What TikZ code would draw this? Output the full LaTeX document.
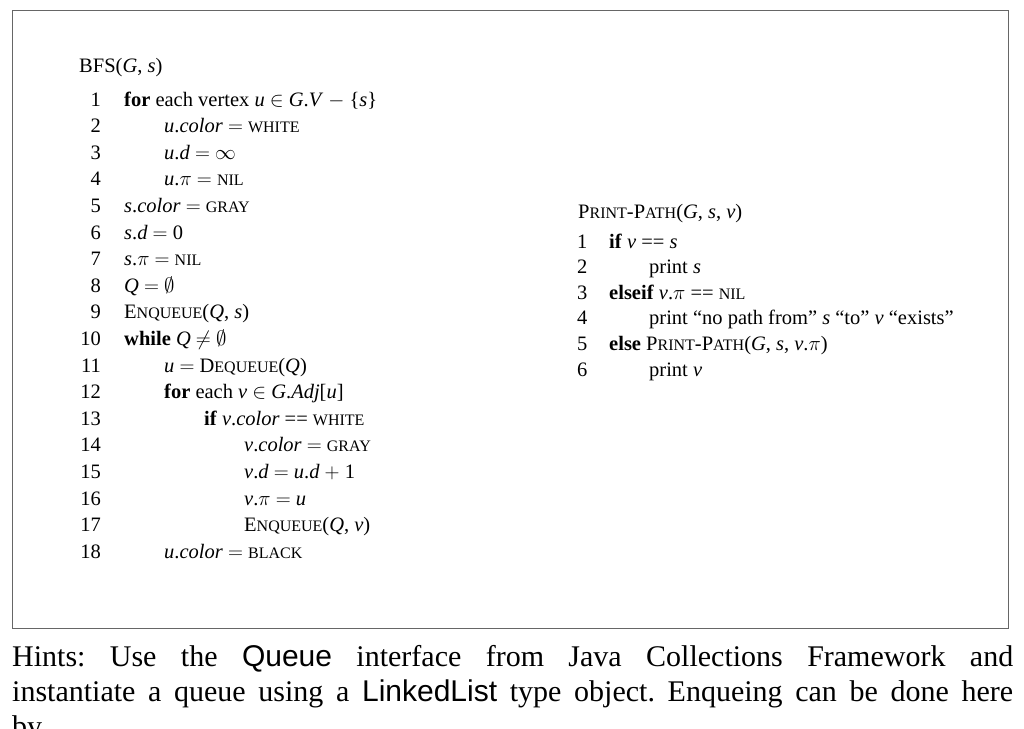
\documentclass[tikz,border=0pt]{standalone}
\usepackage{fontspec}
\setmainfont{Liberation Serif}
\newfontfamily\hsans{Liberation Sans}
\newcommand\smc[1]{{\fontsize{16}{16}\selectfont #1}}
\newcommand\kw[1]{\textbf{#1}}
\newcommand\vi[1]{\textit{#1}}
\frenchspacing
\begin{document}
\begin{tikzpicture}[x=1pt,y=-1pt,
  ln/.style={anchor=base east,font=\fontsize{20.5}{22}\selectfont,inner sep=0},
  cd/.style={anchor=base west,font=\fontsize{20.5}{22}\selectfont,inner sep=0}]
\useasboundingbox (0,0) rectangle (1024,728);
\node[draw=black!60,line width=0.6pt,minimum width=996pt,minimum height=618pt,anchor=north west,inner sep=0] (frame) at (12,10) {};
\node[cd] (t1) at (79,72) {BFS(\vi{G}, \vi{s})};
\def\L#1#2#3{\node[ln] (n#1) at (101,{99+26.6*(#1-1)+7}) {#1}; \node[cd] (c#1) at ({124+40*#2},{99+26.6*(#1-1)+7}) {#3};}
\L{1}{0}{\kw{for} each vertex \vi{u} $\in$ \vi{G}.\vi{V} $-$ \{\vi{s}\}}
\L{2}{1}{\vi{u}.\vi{color} $=$ \smc{WHITE}}
\L{3}{1}{\vi{u}.\vi{d} $=$ $\infty$}
\L{4}{1}{\vi{u}.$\pi$ $=$ \smc{NIL}}
\L{5}{0}{\vi{s}.\vi{color} $=$ \smc{GRAY}}
\L{6}{0}{\vi{s}.\vi{d} $=$ 0}
\L{7}{0}{\vi{s}.$\pi$ $=$ \smc{NIL}}
\L{8}{0}{\vi{Q} $=$ $\emptyset$}
\L{9}{0}{E\smc{NQUEUE}(\vi{Q}, \vi{s})}
\L{10}{0}{\kw{while} \vi{Q} $\neq$ $\emptyset$}
\L{11}{1}{\vi{u} $=$ D\smc{EQUEUE}(\vi{Q})}
\L{12}{1}{\kw{for} each \vi{v} $\in$ \vi{G}.\vi{Adj}[\vi{u}]}
\L{13}{2}{\kw{if} \vi{v}.\vi{color} == \smc{WHITE}}
\L{14}{3}{\vi{v}.\vi{color} $=$ \smc{GRAY}}
\L{15}{3}{\vi{v}.\vi{d} $=$ \vi{u}.\vi{d} $+$ 1}
\L{16}{3}{\vi{v}.$\pi$ $=$ \vi{u}}
\L{17}{3}{E\smc{NQUEUE}(\vi{Q}, \vi{v})}
\L{18}{1}{\vi{u}.\vi{color} $=$ \smc{BLACK}}
\node[cd] (t2) at (578,218) {P\smc{RINT}-P\smc{ATH}(\vi{G}, \vi{s}, \vi{v})};
\def\R#1#2#3{\node[cd] (m#1) at (577,{241+25.6*(#1-1)+7}) {#1}; \node[cd] (d#1) at ({609+40*#2},{241+25.6*(#1-1)+7}) {#3};}
\R{1}{0}{\kw{if} \vi{v} == \vi{s}}
\R{2}{1}{print \vi{s}}
\R{3}{0}{\kw{elseif} \vi{v}.$\pi$ == \smc{NIL}}
\R{4}{1}{print “no path from” \vi{s} “to” \vi{v} “exists”}
\R{5}{0}{\kw{else} P\smc{RINT}-P\smc{ATH}(\vi{G}, \vi{s}, \vi{v}.$\pi$)}
\R{6}{1}{print \vi{v}}
\node[anchor=north west,inner sep=0,text width=1001pt,align=justify,font=\fontsize{30}{35}\selectfont] (hint) at (12,645)
{Hints: Use the {\hsans Queue} interface from Java Collections Framework and\linebreak instantiate a queue using a {\hsans LinkedList} type object. Enqueing can be done here by};
\end{tikzpicture}
\end{document}
